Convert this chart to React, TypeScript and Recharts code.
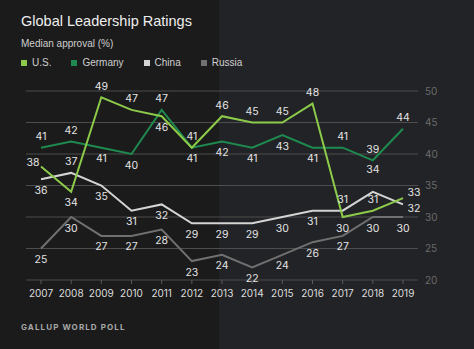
import { LineChart, Line, XAxis, YAxis, CartesianGrid } from 'recharts'

const years = ['2007', '2008', '2009', '2010', '2011', '2012', '2013', '2014', '2015', '2016', '2017', '2018', '2019']
const us = [38, 34, 49, 47, 46, 41, 46, 45, 45, 48, 30, 31, 33]
const germany = [41, 42, 41, 40, 47, 41, 42, 41, 43, 41, 41, 39, 44]
const china = [36, 37, 35, 31, 32, 29, 29, 29, 30, 31, 31, 34, 32]
const russia = [25, 30, 27, 27, 28, 23, 24, 22, 24, 26, 27, 30, 30]
const yTicks = [20, 25, 30, 35, 40, 45, 50]

// where each value label sits relative to its point
const usPlace = ['left', 'down', 'up', 'up', 'down', 'up', 'up', 'up', 'up', 'up', 'down', 'up', 'rightUp']
const germanyPlace = ['up', 'up', 'down', 'down', 'up', 'down', 'down', 'down', 'down', 'down', 'up', 'up', 'up']
const chinaPlace = ['down', 'up', 'down', 'down', 'down', 'down', 'down', 'down', 'down', 'down', 'up', 'high', 'rightDown']
const russiaPlace = ['down', 'down', 'down', 'down', 'down', 'down', 'down', 'down', 'down', 'down', 'down', 'down', 'down']

const data = years.map((year, i) => ({
  year,
  us: us[i],
  germany: germany[i],
  china: china[i],
  russia: russia[i],
}))

const series = [
  { key: 'russia', name: 'Russia', color: '#707070', place: russiaPlace },
  { key: 'china', name: 'China', color: '#d4d4d4', place: chinaPlace },
  { key: 'germany', name: 'Germany', color: '#1f8a4f', place: germanyPlace },
  { key: 'us', name: 'U.S.', color: '#8ccb4a', place: usPlace },
]
const legendOrder = ['us', 'germany', 'china', 'russia']

const FONT = 'Inter, "Liberation Sans", Arial, sans-serif'
const HEAD_FONT = '"Liberation Sans", Arial, sans-serif'

const makeLabel = (place: string[]) => (props: any) => {
  const { x, y, value, index } = props
  const p = place[index] || 'up'
  let dx = 0
  let dy = -11
  if (p === 'down') dy = 11
  if (p === 'high') dy = -22
  if (p === 'left') {
    dx = -8
    dy = -4
  }
  if (p === 'rightUp') {
    dx = 11
    dy = -6
  }
  if (p === 'rightDown') {
    dx = 11
    dy = 4
  }
  return (
    <text
      x={x + dx}
      y={y + dy}
      fill="#e4e4e4"
      fontSize={10.5}
      fontFamily={FONT}
      textAnchor="middle"
      dominantBaseline="central"
    >
      {value}
    </text>
  )
}

export default function App() {
  return (
    <div
      style={{
        position: 'absolute',
        left: 0,
        top: 0,
        width: 474,
        height: 349,
        background: 'linear-gradient(to right, #1b1b1b 219px, #222326 219px)',
        fontFamily: FONT,
        overflow: 'hidden',
      }}
    >
      <div style={{ position: 'absolute', left: 21, top: 13, color: '#eeeeee', fontSize: 14.5, fontFamily: HEAD_FONT }}>
        Global Leadership Ratings
      </div>
      <div style={{ position: 'absolute', left: 21, top: 38, color: '#cfcfcf', fontSize: 10, fontFamily: HEAD_FONT }}>
        Median approval (%)
      </div>
      <div style={{ position: 'absolute', left: 21, top: 57, display: 'flex', fontSize: 10, color: '#cfcfcf', fontFamily: HEAD_FONT }}>
        {legendOrder.map((k) => {
          const s = series.find((d) => d.key === k)!
          return (
            <div key={k} style={{ display: 'flex', alignItems: 'center', marginRight: 20 }}>
              <span style={{ width: 6, height: 6, background: s.color, marginRight: 5, display: 'inline-block' }} />
              <span>{s.name}</span>
            </div>
          )
        })}
      </div>
      <div
        style={{
          position: 'absolute',
          left: 21,
          top: 322,
          color: '#a8a8a8',
          fontSize: 8,
          fontWeight: 700,
          letterSpacing: 1.1,
        }}
      >
        GALLUP WORLD POLL
      </div>
      <div style={{ position: 'absolute', left: 0, top: 0 }}>
        <LineChart width={474} height={349} data={data} margin={{ top: 91, right: 16, left: 26, bottom: 49 }}>
          <CartesianGrid vertical={false} stroke="#4d4d4d" strokeWidth={1} />
          <XAxis
            dataKey="year"
            padding={{ left: 15, right: 15 }}
            axisLine={false}
            tickSize={4}
            tickMargin={6}
            tickLine={{ stroke: '#5a5a5a' }}
            tick={{ fontSize: 10, fill: '#dddddd', fontFamily: FONT }}
            interval={0}
            height={20}
          />
          <YAxis
            orientation="right"
            domain={[20, 50]}
            ticks={yTicks}
            axisLine={false}
            tickLine={false}
            tickSize={0}
            tickMargin={7}
            tick={{ fontSize: 10, fill: '#6a6a6a', fontFamily: FONT, textAnchor: 'start' }}
            width={40}
          />
          {series.map((s) => (
            <Line
              key={s.key}
              dataKey={s.key}
              name={s.name}
              stroke={s.color}
              strokeWidth={2}
              dot={false}
              type="linear"
              isAnimationActive={false}
              label={makeLabel(s.place)}
            />
          ))}
        </LineChart>
      </div>
    </div>
  )
}
